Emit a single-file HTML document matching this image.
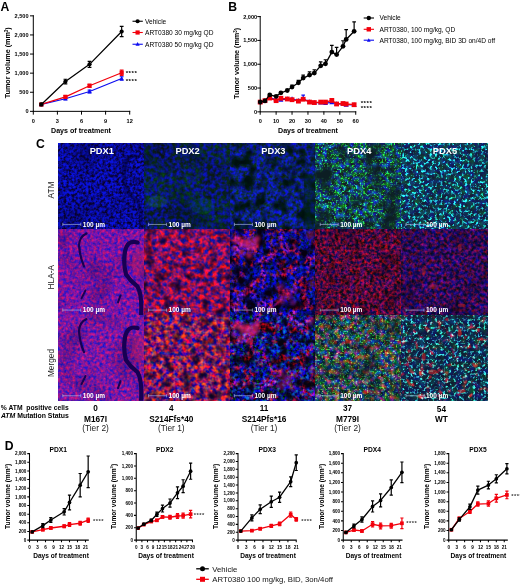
<!DOCTYPE html>
<html lang="en"><head><meta charset="utf-8"><title>Figure</title>
<style>html,body{margin:0;padding:0;background:#fff}body{width:520px;height:585px;overflow:hidden}svg{display:block}text{font-family:'Liberation Sans', Arial, Helvetica, sans-serif}</style>
</head><body>
<svg width="520" height="585" viewBox="0 0 520 585" font-family='"Liberation Sans", Arial, Helvetica, sans-serif'>
<rect width="520" height="585" fill="#fff"/>
<defs>
<filter id="ob" x="-20%" y="-20%" width="140%" height="140%"><feGaussianBlur stdDeviation="0.7"/></filter><filter id="ob2" x="-20%" y="-20%" width="140%" height="140%"><feGaussianBlur stdDeviation="1.5"/></filter>
<filter id="m00" x="0" y="0" width="1" height="1" color-interpolation-filters="sRGB"><feTurbulence type="fractalNoise" baseFrequency="0.36" numOctaves="2" seed="3"/><feColorMatrix values="0 0 0 0 0.03 0 0 0.2 0 -0.04 0 0 2.6 0 -0.7 0 0 0 0 1"/><feGaussianBlur stdDeviation="0.45" result="a"/><feTurbulence type="fractalNoise" baseFrequency="0.03" numOctaves="2" seed="11"/><feColorMatrix values="0.8 0 0 0 0.56 0.8 0 0 0 0.56 0.8 0 0 0 0.56 0 0 0 0 1" result="k"/><feComposite in="a" in2="k" operator="arithmetic" k1="1" k2="0" k3="0" k4="0"/><feColorMatrix values="1.084 0 0 0 0 0 0.734 0 0 0 0 0 0.697 0 0.176 0 0 0 0 1"/></filter>
<filter id="m01" x="0" y="0" width="1" height="1" color-interpolation-filters="sRGB"><feTurbulence type="fractalNoise" baseFrequency="0.26" numOctaves="2" seed="5"/><feColorMatrix values="0 0 0 0 0.03 0 0.5 -0.5 0 0.12 0 0 2.3 0 -0.75 0 0 0 0 1"/><feGaussianBlur stdDeviation="0.45" result="a"/><feTurbulence type="fractalNoise" baseFrequency="0.035" numOctaves="2" seed="12"/><feColorMatrix values="1.5 0 0 0 0.15 0 2.5 0 0 -0.55 1.5 0 0 0 0.15 0 0 0 0 1" result="k"/><feComposite in="a" in2="k" operator="arithmetic" k1="1" k2="0" k3="0" k4="0"/><feColorMatrix values="1.096 0 0 0 0 0 0.491 0 0 0.071 0 0 0.658 0 0.086 0 0 0 0 1"/></filter>
<filter id="m02" x="0" y="0" width="1" height="1" color-interpolation-filters="sRGB"><feTurbulence type="fractalNoise" baseFrequency="0.28" numOctaves="2" seed="7"/><feColorMatrix values="0 0 0 0 0.03 0 0.8 -0.4 0 0.1 0 0 2.2 0 -0.55 0 0 0 0 1"/><feGaussianBlur stdDeviation="0.45" result="a"/><feTurbulence type="fractalNoise" baseFrequency="0.09" numOctaves="2" seed="13"/><feColorMatrix values="3.5 0 0 0 -1 2 0 0 0 -0.2 3.5 0 0 0 -1 0 0 0 0 1" result="k"/><feComposite in="a" in2="k" operator="arithmetic" k1="1" k2="0" k3="0" k4="0"/><feColorMatrix values="1.555 0 0 0 0 0 0.288 0 0 0.047 0 0 0.822 0 0.059 0 0 0 0 1"/></filter>
<filter id="m03" x="0" y="0" width="1" height="1" color-interpolation-filters="sRGB"><feTurbulence type="fractalNoise" baseFrequency="0.55" numOctaves="2" seed="9"/><feColorMatrix values="0 0.9 0 0 -0.49 0 4.5 0 0 -2.43 0 0.6 0 0 -0.32 0 0 0 0 1"/><feGaussianBlur stdDeviation="0.4" result="a"/><feTurbulence type="fractalNoise" baseFrequency="0.22" numOctaves="2" seed="29"/><feColorMatrix values="0 0 0 0 0.06 0 1 0 0 -0.35 0 0 2.4 0 -0.9 0 0 0 0 1"/><feComposite in2="a" operator="arithmetic" k1="0" k2="1" k3="1" k4="0" result="a"/><feTurbulence type="fractalNoise" baseFrequency="0.06" numOctaves="2" seed="14"/><feColorMatrix values="3 0 0 0 -0.7 3 0 0 0 -0.7 3 0 0 0 -0.7 0 0 0 0 1" result="k"/><feComposite in="a" in2="k" operator="arithmetic" k1="1" k2="0" k3="0" k4="0"/><feColorMatrix values="0.525 0 0 0 0.047 0 0.833 0 0 0.118 0 0 0.719 0 0.137 0 0 0 0 1"/></filter>
<filter id="m04" x="0" y="0" width="1" height="1" color-interpolation-filters="sRGB"><feTurbulence type="fractalNoise" baseFrequency="0.37" numOctaves="2" seed="11"/><feColorMatrix values="0 0.8 0 0 -0.42 0 4 0 0 -2.08 0 3.8 0 0 -1.98 0 0 0 0 1"/><feGaussianBlur stdDeviation="0.5" result="a"/><feTurbulence type="fractalNoise" baseFrequency="0.2" numOctaves="2" seed="31"/><feColorMatrix values="0 0 0 0 0.05 0 0.5 0 0 -0.17 0 0 0.8 0 -0.28 0 0 0 0 1"/><feComposite in2="a" operator="arithmetic" k1="0" k2="1" k3="1" k4="0" result="a"/><feTurbulence type="fractalNoise" baseFrequency="0.04" numOctaves="2" seed="15"/><feColorMatrix values="1 0 0 0 0.46 1 0 0 0 0.46 1 0 0 0 0.46 0 0 0 0 1" result="k"/><feComposite in="a" in2="k" operator="arithmetic" k1="1" k2="0" k3="0" k4="0"/><feColorMatrix values="0.542 0 0 0 0.047 0 0.998 0 0 0.11 0 0 0.89 0 0.216 0 0 0 0 1"/></filter>
<filter id="m10" x="0" y="0" width="1" height="1" color-interpolation-filters="sRGB"><feTurbulence type="fractalNoise" baseFrequency="0.33" numOctaves="2" seed="13"/><feColorMatrix values="1.45 0 0 0 -0.255 0 0 0 0 0.06 -0.7 0 0.4 0 0.81 0 0 0 0 1"/><feGaussianBlur stdDeviation="0.55" result="a"/><feTurbulence type="fractalNoise" baseFrequency="0.035" numOctaves="2" seed="16"/><feColorMatrix values="0.6 0 0 0 0.68 0.6 0 0 0 0.68 0.6 0 0 0 0.68 0 0 0 0 1" result="k"/><feComposite in="a" in2="k" operator="arithmetic" k1="1" k2="0" k3="0" k4="0"/><feColorMatrix values="0.877 0 0 0 0.059 0 1.335 0 0 0 0 0 0.794 0 0.118 0 0 0 0 1"/></filter>
<filter id="m11" x="0" y="0" width="1" height="1" color-interpolation-filters="sRGB"><feTurbulence type="fractalNoise" baseFrequency="0.23" numOctaves="2" seed="15"/><feColorMatrix values="2 0 0 0 -0.55 0 0 0 0 0.06 -1.5 0 1 0 0.67 0 0 0 0 1"/><feGaussianBlur stdDeviation="0.5" result="a"/><feTurbulence type="fractalNoise" baseFrequency="0.11" numOctaves="2" seed="17"/><feColorMatrix values="2.2 0 0 0 -0.24 2.2 0 0 0 -0.24 2.2 0 0 0 -0.24 0 0 0 0 1" result="k"/><feComposite in="a" in2="k" operator="arithmetic" k1="1" k2="0" k3="0" k4="0"/><feColorMatrix values="1.114 0 0 0 0.047 0 1.31 0 0 0 0 0 0.708 0 0.11 0 0 0 0 1"/></filter>
<filter id="m12" x="0" y="0" width="1" height="1" color-interpolation-filters="sRGB"><feTurbulence type="fractalNoise" baseFrequency="0.3" numOctaves="2" seed="17"/><feColorMatrix values="2.5 0 0 0 -0.85 0.3 0 0 0 -0.1 0 0 2.6 0 -0.72 0 0 0 0 1"/><feGaussianBlur stdDeviation="0.45" result="a"/><feTurbulence type="fractalNoise" baseFrequency="0.09" numOctaves="2" seed="13"/><feColorMatrix values="0 6 0 0 -2.7 3.5 0 0 0 -1 3.5 0 0 0 -1 0 0 0 0 1" result="k"/><feComposite in="a" in2="k" operator="arithmetic" k1="1" k2="0" k3="0" k4="0"/><feColorMatrix values="0.764 0 0 0 0.024 0 1.225 0 0 0 0 0 0.831 0 0.059 0 0 0 0 1"/></filter>
<filter id="m13" x="0" y="0" width="1" height="1" color-interpolation-filters="sRGB"><feTurbulence type="fractalNoise" baseFrequency="0.34" numOctaves="2" seed="19"/><feColorMatrix values="1.9 0 0 0 -0.62 0 0 0 0 0.03 0 0 0 0 0 0 0 0 0 1"/><feGaussianBlur stdDeviation="0.55" result="a"/><feTurbulence type="fractalNoise" baseFrequency="0.2" numOctaves="2" seed="33"/><feColorMatrix values="0 0 0 0 0 0 0 0 0 0 0 0 1.7 0 -0.49 0 0 0 0 1"/><feComposite in2="a" operator="arithmetic" k1="0" k2="1" k3="1" k4="0" result="a"/><feTurbulence type="fractalNoise" baseFrequency="0.05" numOctaves="2" seed="14"/><feColorMatrix values="1.2 0 0 0 0.34 1.2 0 0 0 0.34 1.2 0 0 0 0.34 0 0 0 0 1" result="k"/><feComposite in="a" in2="k" operator="arithmetic" k1="1" k2="0" k3="0" k4="0"/><feColorMatrix values="0.872 0 0 0 0.039 0 1.35 0 0 0 0 0 0.414 0 0.078 0 0 0 0 1"/></filter>
<filter id="m14" x="0" y="0" width="1" height="1" color-interpolation-filters="sRGB"><feTurbulence type="fractalNoise" baseFrequency="0.32" numOctaves="2" seed="21"/><feColorMatrix values="1.7 0 0 0 -0.63 0 0 0 0 0.03 0 0 0 0 0 0 0 0 0 1"/><feGaussianBlur stdDeviation="0.55" result="a"/><feTurbulence type="fractalNoise" baseFrequency="0.25" numOctaves="2" seed="35"/><feColorMatrix values="0 0 0 0 0 0 0 0 0 0 0 0 1.7 0 -0.43 0 0 0 0 1"/><feComposite in2="a" operator="arithmetic" k1="0" k2="1" k3="1" k4="0" result="a"/><feTurbulence type="fractalNoise" baseFrequency="0.04" numOctaves="2" seed="15"/><feColorMatrix values="1 0 0 0 0.46 1 0 0 0 0.46 1 0 0 0 0.46 0 0 0 0 1" result="k"/><feComposite in="a" in2="k" operator="arithmetic" k1="1" k2="0" k3="0" k4="0"/><feColorMatrix values="0.747 0 0 0 0.031 0 1.375 0 0 0 0 0 0.581 0 0.098 0 0 0 0 1"/></filter>
<filter id="m20" x="0" y="0" width="1" height="1" color-interpolation-filters="sRGB"><feTurbulence type="fractalNoise" baseFrequency="0.33" numOctaves="2" seed="13"/><feColorMatrix values="1.45 0 0 0 -0.255 0 0 0 0 0.07 -0.7 0 0.4 0 0.81 0 0 0 0 1"/><feGaussianBlur stdDeviation="0.55" result="a"/><feTurbulence type="fractalNoise" baseFrequency="0.035" numOctaves="2" seed="16"/><feColorMatrix values="0.6 0 0 0 0.68 0.6 0 0 0 0.68 0.6 0 0 0 0.68 0 0 0 0 1" result="k"/><feComposite in="a" in2="k" operator="arithmetic" k1="1" k2="0" k3="0" k4="0"/><feColorMatrix values="0.884 0 0 0 0.059 0 1.253 0 0 0 0 0 0.792 0 0.118 0 0 0 0 1"/></filter>
<filter id="m21" x="0" y="0" width="1" height="1" color-interpolation-filters="sRGB"><feTurbulence type="fractalNoise" baseFrequency="0.23" numOctaves="2" seed="15"/><feColorMatrix values="2 0 0 0 -0.55 0.5 1 0 0 -0.61 -1.5 0 1 0 0.67 0 0 0 0 1"/><feGaussianBlur stdDeviation="0.5" result="a"/><feTurbulence type="fractalNoise" baseFrequency="0.11" numOctaves="2" seed="17"/><feColorMatrix values="2.2 0 0 0 -0.24 2.2 0 0 0 -0.24 2.2 0 0 0 -0.24 0 0 0 0 1" result="k"/><feComposite in="a" in2="k" operator="arithmetic" k1="1" k2="0" k3="0" k4="0"/><feColorMatrix values="1.141 0 0 0 0.047 0 0.748 0 0 0.016 0 0 0.714 0 0.11 0 0 0 0 1"/></filter>
<filter id="m22" x="0" y="0" width="1" height="1" color-interpolation-filters="sRGB"><feTurbulence type="fractalNoise" baseFrequency="0.3" numOctaves="2" seed="17"/><feColorMatrix values="2.5 0 0 0 -0.85 0 1.6 0 0 -0.7 0 0 2.6 0 -0.72 0 0 0 0 1"/><feGaussianBlur stdDeviation="0.45" result="a"/><feTurbulence type="fractalNoise" baseFrequency="0.09" numOctaves="2" seed="13"/><feColorMatrix values="0 6 0 0 -2.7 3.5 0 0 0 -1 3.5 0 0 0 -1 0 0 0 0 1" result="k"/><feComposite in="a" in2="k" operator="arithmetic" k1="1" k2="0" k3="0" k4="0"/><feColorMatrix values="0.769 0 0 0 0.024 0 0.786 0 0 0.012 0 0 0.831 0 0.059 0 0 0 0 1"/></filter>
<filter id="m23" x="0" y="0" width="1" height="1" color-interpolation-filters="sRGB"><feTurbulence type="fractalNoise" baseFrequency="0.55" numOctaves="2" seed="9"/><feColorMatrix values="0 1 0 0 -0.54 0 3.6 0 0 -1.94 0 0.8 0 0 -0.43 0 0 0 0 1"/><feGaussianBlur stdDeviation="0.4" result="a"/><feTurbulence type="fractalNoise" baseFrequency="0.2" numOctaves="2" seed="29"/><feColorMatrix values="2.6 0 0 0 -1.12 0 1 0 0 -0.28 0 0 1.8 0 -0.64 0 0 0 0 1"/><feComposite in2="a" operator="arithmetic" k1="0" k2="1" k3="1" k4="0" result="a"/><feTurbulence type="fractalNoise" baseFrequency="0.05" numOctaves="2" seed="14"/><feColorMatrix values="1.6 0 0 0 0.1 1.6 0 0 0 0.1 1.6 0 0 0 0.1 0 0 0 0 1" result="k"/><feComposite in="a" in2="k" operator="arithmetic" k1="1" k2="0" k3="0" k4="0"/><feColorMatrix values="0.829 0 0 0 0.031 0 0.719 0 0 0.086 0 0 0.794 0 0.11 0 0 0 0 1"/></filter>
<filter id="m24" x="0" y="0" width="1" height="1" color-interpolation-filters="sRGB"><feTurbulence type="fractalNoise" baseFrequency="0.37" numOctaves="2" seed="11"/><feColorMatrix values="0 0.8 0 0 -0.42 0 4 0 0 -2.08 0 3.8 0 0 -1.98 0 0 0 0 1"/><feGaussianBlur stdDeviation="0.5" result="a"/><feTurbulence type="fractalNoise" baseFrequency="0.16" numOctaves="2" seed="31"/><feColorMatrix values="3.2 0 0 0 -1.8 0 0.5 0 0 -0.19 0 0 0.8 0 -0.28 0 0 0 0 1"/><feComposite in2="a" operator="arithmetic" k1="0" k2="1" k3="1" k4="0" result="a"/><feTurbulence type="fractalNoise" baseFrequency="0.04" numOctaves="2" seed="15"/><feColorMatrix values="1 0 0 0 0.46 1 0 0 0 0.46 1 0 0 0 0.46 0 0 0 0 1" result="k"/><feComposite in="a" in2="k" operator="arithmetic" k1="1" k2="0" k3="0" k4="0"/><feColorMatrix values="1.009 0 0 0 0.055 0 0.868 0 0 0.098 0 0 0.725 0 0.196 0 0 0 0 1"/></filter>
</defs>
<text x="0.5" y="10.6" font-size="12.2" font-weight="bold" text-anchor="start" fill="#000">A</text>
<text x="228.2" y="10.6" font-size="12.2" font-weight="bold" text-anchor="start" fill="#000">B</text>
<text x="36.1" y="148.4" font-size="12.2" font-weight="bold" text-anchor="start" fill="#000">C</text>
<text x="4.8" y="450" font-size="12.2" font-weight="bold" text-anchor="start" fill="#000">D</text>
<path d="M41.33 104.47L65.43 98.74L89.53 91.49L121.67 78.5" fill="none" stroke="#0c0cf0" stroke-width="1.25" stroke-linejoin="round"/>
<path d="M65.43 97.79V99.7M63.53 97.79H67.33M63.53 99.7H67.33M89.53 90.15V92.82M87.63 90.15H91.43M87.63 92.82H91.43M121.67 76.78V80.22M119.77 76.78H123.57M119.77 80.22H123.57" fill="none" stroke="#0c0cf0" stroke-width="1.15"/>
<path d="M41.33 102.18L43.53 106.17H39.14Z" fill="#0c0cf0"/>
<path d="M65.43 96.45L67.63 100.44H63.24Z" fill="#0c0cf0"/>
<path d="M89.53 89.19L91.73 93.18H87.34Z" fill="#0c0cf0"/>
<path d="M121.67 76.2L123.86 80.19H119.47Z" fill="#0c0cf0"/>
<path d="M41.33 104.47L65.43 96.83L89.53 85.76L121.67 72.77" fill="none" stroke="#f2000c" stroke-width="1.25" stroke-linejoin="round"/>
<path d="M65.43 95.69V97.98M63.53 95.69H67.33M63.53 97.98H67.33M89.53 84.23V87.28M87.63 84.23H91.43M87.63 87.28H91.43M121.67 70.09V75.44M119.77 70.09H123.57M119.77 75.44H123.57" fill="none" stroke="#f2000c" stroke-width="1.15"/>
<rect x="39.23" y="102.37" width="4.2" height="4.2" fill="#f2000c"/>
<rect x="63.33" y="94.73" width="4.2" height="4.2" fill="#f2000c"/>
<rect x="87.43" y="83.66" width="4.2" height="4.2" fill="#f2000c"/>
<rect x="119.57" y="70.67" width="4.2" height="4.2" fill="#f2000c"/>
<path d="M41.33 104.47L65.43 81.55L89.53 64.36L121.67 31.51" fill="none" stroke="#000" stroke-width="1.25" stroke-linejoin="round"/>
<path d="M41.33 103.33V105.62M39.43 103.33H43.23M39.43 105.62H43.23M65.43 79.26V83.85M63.53 79.26H67.33M63.53 83.85H67.33M89.53 61.31V67.42M87.63 61.31H91.43M87.63 67.42H91.43M121.67 26.36V36.67M119.77 26.36H123.57M119.77 36.67H123.57" fill="none" stroke="#000" stroke-width="1.15"/>
<circle cx="41.33" cy="104.47" r="2.1" fill="#000"/>
<circle cx="65.43" cy="81.55" r="2.1" fill="#000"/>
<circle cx="89.53" cy="64.36" r="2.1" fill="#000"/>
<circle cx="121.67" cy="31.51" r="2.1" fill="#000"/>
<path d="M33.3 15.85V111.35H129.7M30.5 111.35H33.3M30.5 92.25H33.3M30.5 73.15H33.3M30.5 54.05H33.3M30.5 34.95H33.3M30.5 15.85H33.3M33.3 111.35V114.15M57.4 111.35V114.15M81.5 111.35V114.15M105.6 111.35V114.15M129.7 111.35V114.15" fill="none" stroke="#000" stroke-width="1" stroke-linecap="square"/>
<g font-size="5.6" font-weight="bold">
<text x="28.6" y="113.37" text-anchor="end">0</text>
<text x="28.6" y="94.27" text-anchor="end">500</text>
<text x="28.6" y="75.17" text-anchor="end">1,000</text>
<text x="28.6" y="56.07" text-anchor="end">1,500</text>
<text x="28.6" y="36.97" text-anchor="end">2,000</text>
<text x="28.6" y="17.87" text-anchor="end">2,500</text>
<text x="33.3" y="123.2" text-anchor="middle">0</text>
<text x="57.4" y="123.2" text-anchor="middle">3</text>
<text x="81.5" y="123.2" text-anchor="middle">6</text>
<text x="105.6" y="123.2" text-anchor="middle">9</text>
<text x="129.7" y="123.2" text-anchor="middle">12</text>
</g>
<text transform="translate(10.3 62.8) rotate(-90)" font-size="7.2" font-weight="bold" text-anchor="middle">Tumor volume (mm<tspan font-size="4.46" dy="-2.74">3</tspan><tspan dy="2.74">)</tspan></text>
<text x="81" y="132.6" font-size="7.1" font-weight="bold" text-anchor="middle" fill="#000">Days of treatment</text>
<text x="125.7" y="75.2" font-size="6.2" font-weight="bold" text-anchor="start" fill="#000" letter-spacing="0.5">****</text>
<text x="125.7" y="82.7" font-size="6.2" font-weight="bold" text-anchor="start" fill="#000" letter-spacing="0.5">****</text>
<path d="M132.5 21.25H142.8" stroke="#000" stroke-width="1.1"/>
<circle cx="137.6" cy="21.25" r="2.1" fill="#000"/>
<text x="145" y="23.55" font-size="6.6" font-weight="normal" text-anchor="start" fill="#000">Vehicle</text>
<path d="M132.5 32.5H142.8" stroke="#f2000c" stroke-width="1.1"/>
<rect x="135.5" y="30.4" width="4.2" height="4.2" fill="#f2000c"/>
<text x="145" y="34.8" font-size="6.6" font-weight="normal" text-anchor="start" fill="#000">ART0380 30 mg/kg QD</text>
<path d="M132.5 44.25H142.8" stroke="#0c0cf0" stroke-width="1.1"/>
<path d="M137.6 42.06L139.69 45.87H135.51Z" fill="#0c0cf0"/>
<text x="145" y="46.55" font-size="6.6" font-weight="normal" text-anchor="start" fill="#000">ART0380 50 mg/kg QD</text>
<path d="M260.2 102.09L264.98 100.66L269.75 97.8L276.12 99.71L280.9 99.71L287.26 98.99L292.04 98.99L298.41 100.66L303.18 98.75L309.55 101.85L314.33 102.56L320.7 102.56L325.47 103.04L331.84 102.32L336.62 103.75L342.98 103.75L346.17 104.71L354.13 104.94" fill="none" stroke="#0c0cf0" stroke-width="1.3" stroke-linejoin="round"/>
<path d="M303.18 95.18V98.75M301.38 95.18H304.98M301.38 98.75H304.98" fill="none" stroke="#0c0cf0" stroke-width="1.2"/>
<path d="M260.2 99.46L262.71 104.02H257.69Z" fill="#0c0cf0"/>
<path d="M264.98 98.04L267.48 102.6H262.47Z" fill="#0c0cf0"/>
<path d="M269.75 95.18L272.26 99.74H267.24Z" fill="#0c0cf0"/>
<path d="M276.12 97.08L278.63 101.64H273.61Z" fill="#0c0cf0"/>
<path d="M280.9 97.08L283.4 101.64H278.39Z" fill="#0c0cf0"/>
<path d="M287.26 96.37L289.77 100.93H284.76Z" fill="#0c0cf0"/>
<path d="M292.04 96.37L294.55 100.93H289.53Z" fill="#0c0cf0"/>
<path d="M298.41 98.04L300.92 102.6H295.9Z" fill="#0c0cf0"/>
<path d="M303.18 96.13L305.69 100.69H300.68Z" fill="#0c0cf0"/>
<path d="M309.55 99.23L312.06 103.79H307.04Z" fill="#0c0cf0"/>
<path d="M314.33 99.94L316.84 104.5H311.82Z" fill="#0c0cf0"/>
<path d="M320.7 99.94L323.2 104.5H318.19Z" fill="#0c0cf0"/>
<path d="M325.47 100.42L327.98 104.98H322.96Z" fill="#0c0cf0"/>
<path d="M331.84 99.7L334.35 104.26H329.33Z" fill="#0c0cf0"/>
<path d="M336.62 101.13L339.12 105.69H334.11Z" fill="#0c0cf0"/>
<path d="M342.98 101.13L345.49 105.69H340.48Z" fill="#0c0cf0"/>
<path d="M346.17 102.08L348.68 106.64H343.66Z" fill="#0c0cf0"/>
<path d="M354.13 102.32L356.64 106.88H351.62Z" fill="#0c0cf0"/>
<path d="M260.2 102.09L264.98 100.66L269.75 98.04L276.12 100.66L280.9 98.28L287.26 98.99L292.04 99.71L298.41 101.13L303.18 99.23L309.55 102.09L314.33 102.56L320.7 102.09L325.47 102.09L331.84 100.42L336.62 103.99L342.98 103.52L346.17 103.99L354.13 104.71" fill="none" stroke="#f2000c" stroke-width="1.3" stroke-linejoin="round"/>
<rect x="257.8" y="99.69" width="4.8" height="4.8" fill="#f2000c"/>
<rect x="262.58" y="98.26" width="4.8" height="4.8" fill="#f2000c"/>
<rect x="267.35" y="95.64" width="4.8" height="4.8" fill="#f2000c"/>
<rect x="273.72" y="98.26" width="4.8" height="4.8" fill="#f2000c"/>
<rect x="278.5" y="95.88" width="4.8" height="4.8" fill="#f2000c"/>
<rect x="284.86" y="96.59" width="4.8" height="4.8" fill="#f2000c"/>
<rect x="289.64" y="97.31" width="4.8" height="4.8" fill="#f2000c"/>
<rect x="296.01" y="98.73" width="4.8" height="4.8" fill="#f2000c"/>
<rect x="300.78" y="96.83" width="4.8" height="4.8" fill="#f2000c"/>
<rect x="307.15" y="99.69" width="4.8" height="4.8" fill="#f2000c"/>
<rect x="311.93" y="100.16" width="4.8" height="4.8" fill="#f2000c"/>
<rect x="318.3" y="99.69" width="4.8" height="4.8" fill="#f2000c"/>
<rect x="323.07" y="99.69" width="4.8" height="4.8" fill="#f2000c"/>
<rect x="329.44" y="98.02" width="4.8" height="4.8" fill="#f2000c"/>
<rect x="334.22" y="101.59" width="4.8" height="4.8" fill="#f2000c"/>
<rect x="340.58" y="101.12" width="4.8" height="4.8" fill="#f2000c"/>
<rect x="343.77" y="101.59" width="4.8" height="4.8" fill="#f2000c"/>
<rect x="351.73" y="102.31" width="4.8" height="4.8" fill="#f2000c"/>
<path d="M260.2 102.09L264.98 100.9L269.75 94.94L276.12 96.37L280.9 92.8L287.26 90.51L292.04 87.08L298.41 82.8L303.18 78.04L309.55 75.08L314.33 73.04L320.7 65.84L325.47 63.84L331.84 52.08L336.62 54.6L342.98 46.32L346.17 39.46L354.13 31.32" fill="none" stroke="#000" stroke-width="1.3" stroke-linejoin="round"/>
<path d="M292.04 84.98V87.08M290.24 84.98H293.84M290.24 87.08H293.84M298.41 80.33V82.8M296.61 80.33H300.21M296.61 82.8H300.21M303.18 75.16V78.04M301.38 75.16H304.98M301.38 78.04H304.98M309.55 71.96V75.08M307.75 71.96H311.35M307.75 75.08H311.35M314.33 69.74V73.04M312.53 69.74H316.13M312.53 73.04H316.13M320.7 61.93V65.84M318.9 61.93H322.5M318.9 65.84H322.5M325.47 59.76V63.84M323.67 59.76H327.27M323.67 63.84H327.27M331.84 45.41V52.08M330.04 45.41H333.64M330.04 52.08H333.64M336.62 47.46V54.6M334.82 47.46H338.42M334.82 54.6H338.42M342.98 40.75V46.32M341.18 40.75H344.78M341.18 46.32H344.78M346.17 29.7V39.46M344.37 29.7H347.97M344.37 39.46H347.97M354.13 21.79V31.32M352.33 21.79H355.93M352.33 31.32H355.93" fill="none" stroke="#000" stroke-width="1.2"/>
<circle cx="260.2" cy="102.09" r="2.4" fill="#000"/>
<circle cx="264.98" cy="100.9" r="2.4" fill="#000"/>
<circle cx="269.75" cy="94.94" r="2.4" fill="#000"/>
<circle cx="276.12" cy="96.37" r="2.4" fill="#000"/>
<circle cx="280.9" cy="92.8" r="2.4" fill="#000"/>
<circle cx="287.26" cy="90.51" r="2.4" fill="#000"/>
<circle cx="292.04" cy="87.08" r="2.4" fill="#000"/>
<circle cx="298.41" cy="82.8" r="2.4" fill="#000"/>
<circle cx="303.18" cy="78.04" r="2.4" fill="#000"/>
<circle cx="309.55" cy="75.08" r="2.4" fill="#000"/>
<circle cx="314.33" cy="73.04" r="2.4" fill="#000"/>
<circle cx="320.7" cy="65.84" r="2.4" fill="#000"/>
<circle cx="325.47" cy="63.84" r="2.4" fill="#000"/>
<circle cx="331.84" cy="52.08" r="2.4" fill="#000"/>
<circle cx="336.62" cy="54.6" r="2.4" fill="#000"/>
<circle cx="342.98" cy="46.32" r="2.4" fill="#000"/>
<circle cx="346.17" cy="39.46" r="2.4" fill="#000"/>
<circle cx="354.13" cy="31.32" r="2.4" fill="#000"/>
<path d="M260.2 16.6V111.85H355.72M257.8 111.85H260.2M257.8 88.04H260.2M257.8 64.22H260.2M257.8 40.41H260.2M257.8 16.6H260.2M260.2 111.85V114.25M276.12 111.85V114.25M292.04 111.85V114.25M307.96 111.85V114.25M323.88 111.85V114.25M339.8 111.85V114.25M355.72 111.85V114.25" fill="none" stroke="#000" stroke-width="1" stroke-linecap="square"/>
<g font-size="5.6" font-weight="bold">
<text x="257.2" y="113.87" text-anchor="end">0</text>
<text x="257.2" y="90.05" text-anchor="end">500</text>
<text x="257.2" y="66.24" text-anchor="end">1,000</text>
<text x="257.2" y="42.43" text-anchor="end">1,500</text>
<text x="257.2" y="18.62" text-anchor="end">2,000</text>
<text x="260.2" y="122.8" text-anchor="middle">0</text>
<text x="276.12" y="122.8" text-anchor="middle">10</text>
<text x="292.04" y="122.8" text-anchor="middle">20</text>
<text x="307.96" y="122.8" text-anchor="middle">30</text>
<text x="323.88" y="122.8" text-anchor="middle">40</text>
<text x="339.8" y="122.8" text-anchor="middle">50</text>
<text x="355.72" y="122.8" text-anchor="middle">60</text>
</g>
<text transform="translate(239.4 63.4) rotate(-90)" font-size="7.2" font-weight="bold" text-anchor="middle">Tumor volume (mm<tspan font-size="4.46" dy="-2.74">3</tspan><tspan dy="2.74">)</tspan></text>
<text x="308" y="132.6" font-size="7.1" font-weight="bold" text-anchor="middle" fill="#000">Days of treatment</text>
<text x="360.7" y="104.6" font-size="6.2" font-weight="bold" text-anchor="start" fill="#000" letter-spacing="0.5">****</text>
<text x="360.7" y="110.1" font-size="6.2" font-weight="bold" text-anchor="start" fill="#000" letter-spacing="0.5">****</text>
<path d="M363.7 18H374" stroke="#000" stroke-width="1.1"/>
<circle cx="368.8" cy="18" r="2.2" fill="#000"/>
<text x="379.5" y="20.3" font-size="6.6" font-weight="normal" text-anchor="start" fill="#000">Vehicle</text>
<path d="M363.7 29.3H374" stroke="#f2000c" stroke-width="1.1"/>
<rect x="366.6" y="27.1" width="4.4" height="4.4" fill="#f2000c"/>
<text x="379.5" y="31.6" font-size="6.6" font-weight="normal" text-anchor="start" fill="#000">ART0380, 100 mg/kg, QD</text>
<path d="M363.7 40.2H374" stroke="#0c0cf0" stroke-width="1.1"/>
<path d="M368.8 38.25L370.67 41.65H366.93Z" fill="#0c0cf0"/>
<text x="379.5" y="42.5" font-size="6.6" font-weight="normal" text-anchor="start" fill="#000">ART0380, 100 mg/kg, BID 3D on/4D off</text>
<rect x="58.5" y="143.75" width="86.1" height="85.97" fill="rgb(8,10,138)" filter="url(#m00)"/>
<svg x="58.5" y="143.75" width="86.1" height="85.97" overflow="hidden"><g filter="url(#ob)"><g fill="none" stroke="rgb(0,0,55)" stroke-opacity="0.45" stroke-linecap="round" stroke-linejoin="round"><path d="M79 13Q69 10 66.5 22Q64.5 34 67.5 45Q72 52 79 57Q84 66 82.5 87" stroke-width="4.2"/></g></g></svg>
<rect x="144.3" y="143.75" width="86.1" height="85.97" fill="rgb(8,30,84)" filter="url(#m01)"/>
<svg x="144.3" y="143.75" width="86.1" height="85.97" overflow="hidden"><g filter="url(#ob)"><ellipse cx="13" cy="58" rx="10" ry="6" fill="rgb(40,170,90)" fill-opacity="0.16"/><ellipse cx="58" cy="62" rx="12" ry="8" fill="rgb(30,150,90)" fill-opacity="0.14"/></g></svg>
<rect x="230.1" y="143.75" width="86.1" height="85.97" fill="rgb(8,29,90)" filter="url(#m02)"/>
<svg x="230.1" y="143.75" width="86.1" height="85.97" overflow="hidden"><g filter="url(#ob)"><rect x="74" y="30" width="12" height="56" fill="rgb(0,30,20)" fill-opacity="0.5"/></g></svg>
<rect x="315.9" y="143.75" width="86.1" height="85.97" fill="rgb(20,73,80)" filter="url(#m03)"/>
<rect x="401.7" y="143.75" width="85.8" height="85.97" fill="rgb(22,82,110)" filter="url(#m04)"/>
<rect x="58.5" y="229.42" width="86.1" height="85.97" fill="rgb(110,18,152)" filter="url(#m10)"/>
<svg x="58.5" y="229.42" width="86.1" height="85.97" overflow="hidden"><g filter="url(#ob)"><g fill="none" stroke="rgb(20,6,82)" stroke-opacity="1" stroke-linecap="round" stroke-linejoin="round"><path d="M79 13Q69 10 66.5 22Q64.5 34 67.5 45Q72 52 79 57Q84 66 82.5 87" stroke-width="4.2"/><path d="M28 4Q21 7 20.5 16Q21.5 28 25.5 37" stroke-width="2.2"/><path d="M27 61Q25 65 23 69M62 66L59.5 73" stroke-width="2"/></g><ellipse cx="80" cy="33" rx="7" ry="14" fill="rgb(200,20,80)" fill-opacity="0.35"/></g></svg>
<rect x="144.3" y="229.42" width="86.1" height="85.97" fill="rgb(116,16,90)" filter="url(#m11)"/>
<rect x="230.1" y="229.42" width="86.1" height="85.97" fill="rgb(48,12,100)" filter="url(#m12)"/>
<svg x="230.1" y="229.42" width="86.1" height="85.97" overflow="hidden"><g filter="url(#ob)"><g filter="url(#ob2)"><g fill="rgb(240,35,115)" fill-opacity="0.6"><circle cx="7" cy="10" r="4"/><circle cx="14" cy="14" r="5"/><circle cx="22" cy="15" r="6.5"/><circle cx="27" cy="9" r="3"/><circle cx="11" cy="23" r="3"/><circle cx="19" cy="26" r="3"/><circle cx="4" cy="19" r="2.5"/></g><g fill="rgb(225,30,110)" fill-opacity="0.36"><circle cx="50" cy="58" r="4"/><circle cx="57" cy="65" r="5.5"/><circle cx="65" cy="60" r="3"/><circle cx="51" cy="71" r="4"/><circle cx="63" cy="73" r="3"/><circle cx="80" cy="6" r="4"/><circle cx="82" cy="55" r="3"/></g></g></g></svg>
<rect x="315.9" y="229.42" width="86.1" height="85.97" fill="rgb(78,10,55)" filter="url(#m13)"/>
<rect x="401.7" y="229.42" width="85.8" height="85.97" fill="rgb(50,10,82)" filter="url(#m14)"/>
<svg x="401.7" y="229.42" width="85.8" height="85.97" overflow="hidden"><g filter="url(#ob)"><g fill="rgb(205,30,30)" fill-opacity="0.45"><ellipse cx="31" cy="57" rx="4.5" ry="2.5"/><ellipse cx="58" cy="18" rx="2" ry="3.5"/><ellipse cx="22" cy="42" rx="2" ry="4"/><ellipse cx="60" cy="76" rx="4" ry="1.8"/></g></g></svg>
<rect x="58.5" y="315.09" width="86.1" height="85.67" fill="rgb(110,20,150)" filter="url(#m20)"/>
<svg x="58.5" y="315.09" width="86.1" height="85.67" overflow="hidden"><g filter="url(#ob)"><g fill="none" stroke="rgb(20,6,82)" stroke-opacity="1" stroke-linecap="round" stroke-linejoin="round"><path d="M79 13Q69 10 66.5 22Q64.5 34 67.5 45Q72 52 79 57Q84 66 82.5 87" stroke-width="4.2"/><path d="M28 4Q21 7 20.5 16Q21.5 28 25.5 37" stroke-width="2.2"/><path d="M27 61Q25 65 23 69M62 66L59.5 73" stroke-width="2"/></g><ellipse cx="80" cy="33" rx="7" ry="14" fill="rgb(200,20,80)" fill-opacity="0.35"/></g></svg>
<rect x="144.3" y="315.09" width="86.1" height="85.67" fill="rgb(118,28,90)" filter="url(#m21)"/>
<rect x="230.1" y="315.09" width="86.1" height="85.67" fill="rgb(48,22,98)" filter="url(#m22)"/>
<svg x="230.1" y="315.09" width="86.1" height="85.67" overflow="hidden"><g filter="url(#ob)"><g filter="url(#ob2)"><g fill="rgb(240,35,115)" fill-opacity="0.6"><circle cx="7" cy="10" r="4"/><circle cx="14" cy="14" r="5"/><circle cx="22" cy="15" r="6.5"/><circle cx="27" cy="9" r="3"/><circle cx="11" cy="23" r="3"/><circle cx="19" cy="26" r="3"/><circle cx="4" cy="19" r="2.5"/></g><g fill="rgb(225,30,110)" fill-opacity="0.36"><circle cx="50" cy="58" r="4"/><circle cx="57" cy="65" r="5.5"/><circle cx="65" cy="60" r="3"/><circle cx="51" cy="71" r="4"/><circle cx="63" cy="73" r="3"/><circle cx="80" cy="6" r="4"/><circle cx="82" cy="55" r="3"/></g></g></g></svg>
<rect x="315.9" y="315.09" width="86.1" height="85.67" fill="rgb(55,74,80)" filter="url(#m23)"/>
<rect x="401.7" y="315.09" width="85.8" height="85.67" fill="rgb(38,70,96)" filter="url(#m24)"/>
<svg x="401.7" y="315.09" width="85.8" height="85.67" overflow="hidden"><g filter="url(#ob)"><g fill="rgb(205,30,30)" fill-opacity="0.6"><ellipse cx="31" cy="57" rx="4.5" ry="2.5"/><ellipse cx="58" cy="18" rx="2" ry="3.5"/><ellipse cx="22" cy="42" rx="2" ry="4"/><ellipse cx="60" cy="76" rx="4" ry="1.8"/></g></g></svg>
<!--OVERLAYS-->
<path d="M62.8 224.42H80.8M62.8 222.82v3.2M80.8 222.82v3.2" stroke="#b8c4ee" stroke-width="0.6" fill="none"/>
<text x="82.8" y="226.82" font-size="6.5" font-weight="bold" fill="#fff">100 µm</text>
<path d="M148.6 224.42H166.6M148.6 222.82v3.2M166.6 222.82v3.2" stroke="#b8c4ee" stroke-width="0.6" fill="none"/>
<text x="168.6" y="226.82" font-size="6.5" font-weight="bold" fill="#fff">100 µm</text>
<path d="M234.4 224.42H252.4M234.4 222.82v3.2M252.4 222.82v3.2" stroke="#b8c4ee" stroke-width="0.6" fill="none"/>
<text x="254.4" y="226.82" font-size="6.5" font-weight="bold" fill="#fff">100 µm</text>
<path d="M320.2 224.42H338.2M320.2 222.82v3.2M338.2 222.82v3.2" stroke="#b8c4ee" stroke-width="0.6" fill="none"/>
<text x="340.2" y="226.82" font-size="6.5" font-weight="bold" fill="#fff">100 µm</text>
<path d="M406 224.42H424M406 222.82v3.2M424 222.82v3.2" stroke="#b8c4ee" stroke-width="0.6" fill="none"/>
<text x="426" y="226.82" font-size="6.5" font-weight="bold" fill="#fff">100 µm</text>
<path d="M62.8 310.09H80.8M62.8 308.49v3.2M80.8 308.49v3.2" stroke="#b8c4ee" stroke-width="0.6" fill="none"/>
<text x="82.8" y="312.49" font-size="6.5" font-weight="bold" fill="#fff">100 µm</text>
<path d="M148.6 310.09H166.6M148.6 308.49v3.2M166.6 308.49v3.2" stroke="#b8c4ee" stroke-width="0.6" fill="none"/>
<text x="168.6" y="312.49" font-size="6.5" font-weight="bold" fill="#fff">100 µm</text>
<path d="M234.4 310.09H252.4M234.4 308.49v3.2M252.4 308.49v3.2" stroke="#b8c4ee" stroke-width="0.6" fill="none"/>
<text x="254.4" y="312.49" font-size="6.5" font-weight="bold" fill="#fff">100 µm</text>
<path d="M320.2 310.09H338.2M320.2 308.49v3.2M338.2 308.49v3.2" stroke="#b8c4ee" stroke-width="0.6" fill="none"/>
<text x="340.2" y="312.49" font-size="6.5" font-weight="bold" fill="#fff">100 µm</text>
<path d="M406 310.09H424M406 308.49v3.2M424 308.49v3.2" stroke="#b8c4ee" stroke-width="0.6" fill="none"/>
<text x="426" y="312.49" font-size="6.5" font-weight="bold" fill="#fff">100 µm</text>
<path d="M62.8 395.76H80.8M62.8 394.16v3.2M80.8 394.16v3.2" stroke="#b8c4ee" stroke-width="0.6" fill="none"/>
<text x="82.8" y="398.16" font-size="6.5" font-weight="bold" fill="#fff">100 µm</text>
<path d="M148.6 395.76H166.6M148.6 394.16v3.2M166.6 394.16v3.2" stroke="#b8c4ee" stroke-width="0.6" fill="none"/>
<text x="168.6" y="398.16" font-size="6.5" font-weight="bold" fill="#fff">100 µm</text>
<path d="M234.4 395.76H252.4M234.4 394.16v3.2M252.4 394.16v3.2" stroke="#b8c4ee" stroke-width="0.6" fill="none"/>
<text x="254.4" y="398.16" font-size="6.5" font-weight="bold" fill="#fff">100 µm</text>
<path d="M320.2 395.76H338.2M320.2 394.16v3.2M338.2 394.16v3.2" stroke="#b8c4ee" stroke-width="0.6" fill="none"/>
<text x="340.2" y="398.16" font-size="6.5" font-weight="bold" fill="#fff">100 µm</text>
<path d="M406 395.76H424M406 394.16v3.2M424 394.16v3.2" stroke="#b8c4ee" stroke-width="0.6" fill="none"/>
<text x="426" y="398.16" font-size="6.5" font-weight="bold" fill="#fff">100 µm</text>
<text x="101.8" y="153.8" font-size="9.3" font-weight="bold" fill="#fff" text-anchor="middle">PDX1</text>
<text x="187.6" y="153.8" font-size="9.3" font-weight="bold" fill="#fff" text-anchor="middle">PDX2</text>
<text x="273.4" y="153.8" font-size="9.3" font-weight="bold" fill="#fff" text-anchor="middle">PDX3</text>
<text x="359.2" y="153.8" font-size="9.3" font-weight="bold" fill="#fff" text-anchor="middle">PDX4</text>
<text x="445" y="153.8" font-size="9.3" font-weight="bold" fill="#fff" text-anchor="middle">PDX5</text>
<text transform="translate(53.6 190) rotate(-90)" font-size="8.3" text-anchor="middle" fill="#222">ATM</text>
<text transform="translate(53.6 277.2) rotate(-90)" font-size="8.3" text-anchor="middle" fill="#222">HLA-A</text>
<text transform="translate(53.6 363) rotate(-90)" font-size="8.3" text-anchor="middle" fill="#222">Merged</text>
<text x="0.8" y="409.7" font-size="6.75" font-weight="bold" text-anchor="start" fill="#000">% ATM&#160; positive cells</text>
<text x="68.9" y="417.5" font-size="6.9" font-weight="bold" text-anchor="end"><tspan font-style="italic">ATM</tspan> Mutation Status</text>
<text x="95.5" y="410.5" font-size="8.2" font-weight="bold" text-anchor="middle" fill="#000">0</text>
<text x="95.5" y="421.7" font-size="8.3" font-weight="bold" text-anchor="middle" fill="#000">M167I</text>
<text x="95.5" y="431.3" font-size="8.4" font-weight="normal" text-anchor="middle" fill="#222">(Tier 2)</text>
<text x="171.3" y="410.5" font-size="8.2" font-weight="bold" text-anchor="middle" fill="#000">4</text>
<text x="171.3" y="421.7" font-size="8.3" font-weight="bold" text-anchor="middle" fill="#000">S214Ffs*40</text>
<text x="171.3" y="431.3" font-size="8.4" font-weight="normal" text-anchor="middle" fill="#222">(Tier 1)</text>
<text x="264" y="410.5" font-size="8.2" font-weight="bold" text-anchor="middle" fill="#000">11</text>
<text x="264" y="421.7" font-size="8.3" font-weight="bold" text-anchor="middle" fill="#000">S214Pfs*16</text>
<text x="264" y="431.3" font-size="8.4" font-weight="normal" text-anchor="middle" fill="#222">(Tier 1)</text>
<text x="347.5" y="410.5" font-size="8.2" font-weight="bold" text-anchor="middle" fill="#000">37</text>
<text x="347.5" y="421.7" font-size="8.3" font-weight="bold" text-anchor="middle" fill="#000">M779I</text>
<text x="347.5" y="431.3" font-size="8.4" font-weight="normal" text-anchor="middle" fill="#222">(Tier 2)</text>
<text x="441.4" y="411.7" font-size="8.2" font-weight="bold" text-anchor="middle" fill="#000">54</text>
<text x="441.4" y="422.42" font-size="8.3" font-weight="bold" text-anchor="middle" fill="#000">WT</text>
<path d="M32.17 531.88L42.83 529.72L50.83 527.99L64.17 526.26L69.5 524.53L80.17 523.23L88.17 520.21" fill="none" stroke="#f2000c" stroke-width="1.3" stroke-linejoin="round"/>
<path d="M42.83 528.86V530.59M41.23 528.86H44.43M41.23 530.59H44.43M50.83 526.91V529.07M49.23 526.91H52.43M49.23 529.07H52.43M64.17 524.75V527.77M62.57 524.75H65.77M62.57 527.77H65.77M69.5 522.58V526.48M67.9 522.58H71.1M67.9 526.48H71.1M80.17 521.29V525.18M78.57 521.29H81.77M78.57 525.18H81.77M88.17 518.04V522.37M86.57 518.04H89.77M86.57 522.37H89.77" fill="none" stroke="#f2000c" stroke-width="1.2"/>
<rect x="30.32" y="530.03" width="3.7" height="3.7" fill="#f2000c"/>
<rect x="40.98" y="527.87" width="3.7" height="3.7" fill="#f2000c"/>
<rect x="48.98" y="526.14" width="3.7" height="3.7" fill="#f2000c"/>
<rect x="62.32" y="524.41" width="3.7" height="3.7" fill="#f2000c"/>
<rect x="67.65" y="522.68" width="3.7" height="3.7" fill="#f2000c"/>
<rect x="78.32" y="521.38" width="3.7" height="3.7" fill="#f2000c"/>
<rect x="86.32" y="518.36" width="3.7" height="3.7" fill="#f2000c"/>
<path d="M32.17 531.88L42.83 525.61L50.83 519.99L64.17 511.77L69.5 502.47L80.17 485.17L88.17 471.77" fill="none" stroke="#000" stroke-width="1.3" stroke-linejoin="round"/>
<path d="M42.83 523.67V527.56M41.23 523.67H44.43M41.23 527.56H44.43M50.83 517.61V522.37M49.23 517.61H52.43M49.23 522.37H52.43M64.17 508.53V515.01M62.57 508.53H65.77M62.57 515.01H65.77M69.5 495.12V509.83M67.9 495.12H71.1M67.9 509.83H71.1M80.17 473.5V496.85M78.57 473.5H81.77M78.57 496.85H81.77M88.17 455.98V487.55M86.57 455.98H89.77M86.57 487.55H89.77" fill="none" stroke="#000" stroke-width="1.2"/>
<circle cx="32.17" cy="531.88" r="1.85" fill="#000"/>
<circle cx="42.83" cy="525.61" r="1.85" fill="#000"/>
<circle cx="50.83" cy="519.99" r="1.85" fill="#000"/>
<circle cx="64.17" cy="511.77" r="1.85" fill="#000"/>
<circle cx="69.5" cy="502.47" r="1.85" fill="#000"/>
<circle cx="80.17" cy="485.17" r="1.85" fill="#000"/>
<circle cx="88.17" cy="471.77" r="1.85" fill="#000"/>
<path d="M29.5 453.6V540.1H88.3M27.8 540.1H29.5M27.8 531.45H29.5M27.8 522.8H29.5M27.8 514.15H29.5M27.8 505.5H29.5M27.8 496.85H29.5M27.8 488.2H29.5M27.8 479.55H29.5M27.8 470.9H29.5M27.8 462.25H29.5M27.8 453.6H29.5M29.5 540.1V541.8M37.5 540.1V541.8M45.5 540.1V541.8M53.5 540.1V541.8M61.5 540.1V541.8M69.5 540.1V541.8M77.5 540.1V541.8M85.5 540.1V541.8" fill="none" stroke="#000" stroke-width="1.05" stroke-linecap="square"/>
<g font-size="4.6" font-weight="bold">
<text x="26.4" y="541.76" text-anchor="end">0</text>
<text x="26.4" y="533.11" text-anchor="end">200</text>
<text x="26.4" y="524.46" text-anchor="end">400</text>
<text x="26.4" y="515.81" text-anchor="end">600</text>
<text x="26.4" y="507.16" text-anchor="end">800</text>
<text x="26.4" y="498.51" text-anchor="end">1,000</text>
<text x="26.4" y="489.86" text-anchor="end">1,200</text>
<text x="26.4" y="481.21" text-anchor="end">1,400</text>
<text x="26.4" y="472.56" text-anchor="end">1,600</text>
<text x="26.4" y="463.91" text-anchor="end">1,800</text>
<text x="26.4" y="455.26" text-anchor="end">2,000</text>
<text x="29.5" y="548.6" text-anchor="middle">0</text>
<text x="37.5" y="548.6" text-anchor="middle">3</text>
<text x="45.5" y="548.6" text-anchor="middle">6</text>
<text x="53.5" y="548.6" text-anchor="middle">9</text>
<text x="61.5" y="548.6" text-anchor="middle">12</text>
<text x="69.5" y="548.6" text-anchor="middle">15</text>
<text x="77.5" y="548.6" text-anchor="middle">18</text>
<text x="85.5" y="548.6" text-anchor="middle">21</text>
</g>
<text transform="translate(10.4 496.5) rotate(-90)" font-size="6.6" font-weight="bold" text-anchor="middle">Tumor volume (mm<tspan font-size="4.09" dy="-2.51">3</tspan><tspan dy="2.51">)</tspan></text>
<text x="61" y="557.6" font-size="6.6" font-weight="bold" text-anchor="middle" fill="#000">Days of treatment</text>
<text x="58.3" y="451.5" font-size="6.7" font-weight="bold" text-anchor="middle" fill="#000">PDX1</text>
<text x="93" y="522.9" font-size="5.8" font-weight="bold" text-anchor="start" fill="#3a3a3a" letter-spacing="0.5">****</text>
<path d="M138.12 528.05L143.75 524.65L151.25 521.56L156.88 520.33L162.5 516.93L170 517.24L177.5 516L183.12 515.69L190.62 514.15" fill="none" stroke="#f2000c" stroke-width="1.3" stroke-linejoin="round"/>
<path d="M143.75 524.04V525.27M142.15 524.04H145.35M142.15 525.27H145.35M151.25 520.64V522.49M149.65 520.64H152.85M149.65 522.49H152.85M156.88 519.4V521.26M155.28 519.4H158.47M155.28 521.26H158.47M162.5 515.69V518.17M160.9 515.69H164.1M160.9 518.17H164.1M170 515.39V519.09M168.4 515.39H171.6M168.4 519.09H171.6M177.5 513.53V518.48M175.9 513.53H179.1M175.9 518.48H179.1M183.12 513.22V518.17M181.53 513.22H184.72M181.53 518.17H184.72M190.62 510.44V517.86M189.03 510.44H192.22M189.03 517.86H192.22" fill="none" stroke="#f2000c" stroke-width="1.2"/>
<rect x="136.28" y="526.2" width="3.7" height="3.7" fill="#f2000c"/>
<rect x="141.9" y="522.8" width="3.7" height="3.7" fill="#f2000c"/>
<rect x="149.4" y="519.71" width="3.7" height="3.7" fill="#f2000c"/>
<rect x="155.03" y="518.48" width="3.7" height="3.7" fill="#f2000c"/>
<rect x="160.65" y="515.08" width="3.7" height="3.7" fill="#f2000c"/>
<rect x="168.15" y="515.39" width="3.7" height="3.7" fill="#f2000c"/>
<rect x="175.65" y="514.15" width="3.7" height="3.7" fill="#f2000c"/>
<rect x="181.28" y="513.84" width="3.7" height="3.7" fill="#f2000c"/>
<rect x="188.78" y="512.3" width="3.7" height="3.7" fill="#f2000c"/>
<path d="M138.12 528.05L143.75 524.16L151.25 520.45L156.88 514.27L162.5 508.59L170 503.03L177.5 492.83L183.12 486.22L190.62 471.21" fill="none" stroke="#000" stroke-width="1.3" stroke-linejoin="round"/>
<path d="M143.75 523.23V525.09M142.15 523.23H145.35M142.15 525.09H145.35M151.25 519.22V521.69M149.65 519.22H152.85M149.65 521.69H152.85M156.88 512.11V516.44M155.28 512.11H158.47M155.28 516.44H158.47M162.5 505.19V511.99M160.9 505.19H164.1M160.9 511.99H164.1M170 499.01V507.04M168.4 499.01H171.6M168.4 507.04H171.6M177.5 486.96V498.7M175.9 486.96H179.1M175.9 498.7H179.1M183.12 479.74V492.71M181.53 479.74H184.72M181.53 492.71H184.72M190.62 463.18V479.24M189.03 463.18H192.22M189.03 479.24H192.22" fill="none" stroke="#000" stroke-width="1.2"/>
<circle cx="138.12" cy="528.05" r="1.85" fill="#000"/>
<circle cx="143.75" cy="524.16" r="1.85" fill="#000"/>
<circle cx="151.25" cy="520.45" r="1.85" fill="#000"/>
<circle cx="156.88" cy="514.27" r="1.85" fill="#000"/>
<circle cx="162.5" cy="508.59" r="1.85" fill="#000"/>
<circle cx="170" cy="503.03" r="1.85" fill="#000"/>
<circle cx="177.5" cy="492.83" r="1.85" fill="#000"/>
<circle cx="183.12" cy="486.22" r="1.85" fill="#000"/>
<circle cx="190.62" cy="471.21" r="1.85" fill="#000"/>
<path d="M136.25 453.6V540.1H192.5M134.55 540.1H136.25M134.55 527.74H136.25M134.55 515.39H136.25M134.55 503.03H136.25M134.55 490.67H136.25M134.55 478.31H136.25M134.55 465.96H136.25M134.55 453.6H136.25M136.25 540.1V541.8M141.88 540.1V541.8M147.5 540.1V541.8M153.12 540.1V541.8M158.75 540.1V541.8M164.38 540.1V541.8M170 540.1V541.8M175.62 540.1V541.8M181.25 540.1V541.8M186.88 540.1V541.8M192.5 540.1V541.8" fill="none" stroke="#000" stroke-width="1.05" stroke-linecap="square"/>
<g font-size="4.6" font-weight="bold">
<text x="133.15" y="541.76" text-anchor="end">0</text>
<text x="133.15" y="529.4" text-anchor="end">200</text>
<text x="133.15" y="517.04" text-anchor="end">400</text>
<text x="133.15" y="504.68" text-anchor="end">600</text>
<text x="133.15" y="492.33" text-anchor="end">800</text>
<text x="133.15" y="479.97" text-anchor="end">1,000</text>
<text x="133.15" y="467.61" text-anchor="end">1,200</text>
<text x="133.15" y="455.26" text-anchor="end">1,400</text>
<text x="136.25" y="548.6" text-anchor="middle">0</text>
<text x="141.88" y="548.6" text-anchor="middle">3</text>
<text x="147.5" y="548.6" text-anchor="middle">6</text>
<text x="153.12" y="548.6" text-anchor="middle">9</text>
<text x="158.75" y="548.6" text-anchor="middle">12</text>
<text x="164.38" y="548.6" text-anchor="middle">15</text>
<text x="170" y="548.6" text-anchor="middle">18</text>
<text x="175.62" y="548.6" text-anchor="middle">21</text>
<text x="181.25" y="548.6" text-anchor="middle">24</text>
<text x="186.88" y="548.6" text-anchor="middle">27</text>
<text x="192.5" y="548.6" text-anchor="middle">30</text>
</g>
<text transform="translate(115.9 496.5) rotate(-90)" font-size="6.6" font-weight="bold" text-anchor="middle">Tumor volume (mm<tspan font-size="4.09" dy="-2.51">3</tspan><tspan dy="2.51">)</tspan></text>
<text x="166" y="557.6" font-size="6.6" font-weight="bold" text-anchor="middle" fill="#000">Days of treatment</text>
<text x="164.8" y="451.5" font-size="6.7" font-weight="bold" text-anchor="middle" fill="#000">PDX2</text>
<text x="193.8" y="517.2" font-size="5.8" font-weight="bold" text-anchor="start" fill="#3a3a3a" letter-spacing="0.5">****</text>
<path d="M240.77 531.06L251.87 530.66L260.19 528.7L271.28 525.95L279.6 523.98L290.69 514.54L296.24 519.26" fill="none" stroke="#f2000c" stroke-width="1.3" stroke-linejoin="round"/>
<path d="M251.87 529.88V531.45M250.27 529.88H253.47M250.27 531.45H253.47M260.19 527.52V529.88M258.59 527.52H261.79M258.59 529.88H261.79M271.28 524.37V527.52M269.68 524.37H272.88M269.68 527.52H272.88M279.6 522.21V525.75M278 522.21H281.2M278 525.75H281.2M290.69 511.99V517.1M289.09 511.99H292.29M289.09 517.1H292.29M296.24 517.49V521.03M294.64 517.49H297.84M294.64 521.03H297.84" fill="none" stroke="#f2000c" stroke-width="1.2"/>
<rect x="238.92" y="529.21" width="3.7" height="3.7" fill="#f2000c"/>
<rect x="250.02" y="528.81" width="3.7" height="3.7" fill="#f2000c"/>
<rect x="258.34" y="526.85" width="3.7" height="3.7" fill="#f2000c"/>
<rect x="269.43" y="524.1" width="3.7" height="3.7" fill="#f2000c"/>
<rect x="277.75" y="522.13" width="3.7" height="3.7" fill="#f2000c"/>
<rect x="288.84" y="512.69" width="3.7" height="3.7" fill="#f2000c"/>
<rect x="294.39" y="517.41" width="3.7" height="3.7" fill="#f2000c"/>
<path d="M240.77 531.06L251.87 517.89L260.19 509.24L271.28 501.76L279.6 497.24L290.69 481.71L296.24 462.64" fill="none" stroke="#000" stroke-width="1.3" stroke-linejoin="round"/>
<path d="M251.87 514.94V520.83M250.27 514.94H253.47M250.27 520.83H253.47M260.19 504.91V513.56M258.59 504.91H261.79M258.59 513.56H261.79M271.28 496.06V507.47M269.68 496.06H272.88M269.68 507.47H272.88M279.6 492.13V502.35M278 492.13H281.2M278 502.35H281.2M290.69 476.8V486.63M289.09 476.8H292.29M289.09 486.63H292.29M296.24 454.78V470.51M294.64 454.78H297.84M294.64 470.51H297.84" fill="none" stroke="#000" stroke-width="1.2"/>
<circle cx="240.77" cy="531.06" r="1.85" fill="#000"/>
<circle cx="251.87" cy="517.89" r="1.85" fill="#000"/>
<circle cx="260.19" cy="509.24" r="1.85" fill="#000"/>
<circle cx="271.28" cy="501.76" r="1.85" fill="#000"/>
<circle cx="279.6" cy="497.24" r="1.85" fill="#000"/>
<circle cx="290.69" cy="481.71" r="1.85" fill="#000"/>
<circle cx="296.24" cy="462.64" r="1.85" fill="#000"/>
<path d="M238 453.6V540.1H296.24M236.3 540.1H238M236.3 532.24H238M236.3 524.37H238M236.3 516.51H238M236.3 508.65H238M236.3 500.78H238M236.3 492.92H238M236.3 485.05H238M236.3 477.19H238M236.3 469.33H238M236.3 461.46H238M236.3 453.6H238M238 540.1V541.8M246.32 540.1V541.8M254.64 540.1V541.8M262.96 540.1V541.8M271.28 540.1V541.8M279.6 540.1V541.8M287.92 540.1V541.8M296.24 540.1V541.8" fill="none" stroke="#000" stroke-width="1.05" stroke-linecap="square"/>
<g font-size="4.6" font-weight="bold">
<text x="234.9" y="541.76" text-anchor="end">0</text>
<text x="234.9" y="533.89" text-anchor="end">200</text>
<text x="234.9" y="526.03" text-anchor="end">400</text>
<text x="234.9" y="518.17" text-anchor="end">600</text>
<text x="234.9" y="510.3" text-anchor="end">800</text>
<text x="234.9" y="502.44" text-anchor="end">1,000</text>
<text x="234.9" y="494.57" text-anchor="end">1,200</text>
<text x="234.9" y="486.71" text-anchor="end">1,400</text>
<text x="234.9" y="478.85" text-anchor="end">1,600</text>
<text x="234.9" y="470.98" text-anchor="end">1,800</text>
<text x="234.9" y="463.12" text-anchor="end">2,000</text>
<text x="234.9" y="455.26" text-anchor="end">2,200</text>
<text x="238" y="548.6" text-anchor="middle">0</text>
<text x="246.32" y="548.6" text-anchor="middle">3</text>
<text x="254.64" y="548.6" text-anchor="middle">6</text>
<text x="262.96" y="548.6" text-anchor="middle">9</text>
<text x="271.28" y="548.6" text-anchor="middle">12</text>
<text x="279.6" y="548.6" text-anchor="middle">15</text>
<text x="287.92" y="548.6" text-anchor="middle">18</text>
<text x="296.24" y="548.6" text-anchor="middle">21</text>
</g>
<text transform="translate(218.4 496.5) rotate(-90)" font-size="6.6" font-weight="bold" text-anchor="middle">Tumor volume (mm<tspan font-size="4.09" dy="-2.51">3</tspan><tspan dy="2.51">)</tspan></text>
<text x="268" y="557.6" font-size="6.6" font-weight="bold" text-anchor="middle" fill="#000">Days of treatment</text>
<text x="267.3" y="451.5" font-size="6.7" font-weight="bold" text-anchor="middle" fill="#000">PDX3</text>
<text x="301.3" y="522.5" font-size="5.8" font-weight="bold" text-anchor="start" fill="#3a3a3a" letter-spacing="0.5">****</text>
<path d="M345.92 532.41L353.92 530.01L361.92 530.97L372.58 524.24L380.58 525.92L391.25 525.68L401.92 523.28" fill="none" stroke="#f2000c" stroke-width="1.3" stroke-linejoin="round"/>
<path d="M353.92 528.81V531.21M352.32 528.81H355.52M352.32 531.21H355.52M361.92 529.77V532.17M360.32 529.77H363.52M360.32 532.17H363.52M372.58 521.6V526.88M370.98 521.6H374.18M370.98 526.88H374.18M380.58 523.04V528.81M378.98 523.04H382.18M378.98 528.81H382.18M391.25 523.28V528.09M389.65 523.28H392.85M389.65 528.09H392.85M401.92 517.99V528.57M400.32 517.99H403.52M400.32 528.57H403.52" fill="none" stroke="#f2000c" stroke-width="1.2"/>
<rect x="344.07" y="530.56" width="3.7" height="3.7" fill="#f2000c"/>
<rect x="352.07" y="528.16" width="3.7" height="3.7" fill="#f2000c"/>
<rect x="360.07" y="529.12" width="3.7" height="3.7" fill="#f2000c"/>
<rect x="370.73" y="522.39" width="3.7" height="3.7" fill="#f2000c"/>
<rect x="378.73" y="524.07" width="3.7" height="3.7" fill="#f2000c"/>
<rect x="389.4" y="523.83" width="3.7" height="3.7" fill="#f2000c"/>
<rect x="400.07" y="521.43" width="3.7" height="3.7" fill="#f2000c"/>
<path d="M345.92 532.41L353.92 525.92L361.92 519.53L372.58 506.46L380.58 500.45L391.25 487.48L401.92 472.34" fill="none" stroke="#000" stroke-width="1.3" stroke-linejoin="round"/>
<path d="M353.92 524V527.85M352.32 524H355.52M352.32 527.85H355.52M361.92 516.89V522.18M360.32 516.89H363.52M360.32 522.18H363.52M372.58 500.93V511.99M370.98 500.93H374.18M370.98 511.99H374.18M380.58 493.97V506.94M378.98 493.97H382.18M378.98 506.94H382.18M391.25 479.79V495.17M389.65 479.79H392.85M389.65 495.17H392.85M401.92 462.01V482.67M400.32 462.01H403.52M400.32 482.67H403.52" fill="none" stroke="#000" stroke-width="1.2"/>
<circle cx="345.92" cy="532.41" r="1.85" fill="#000"/>
<circle cx="353.92" cy="525.92" r="1.85" fill="#000"/>
<circle cx="361.92" cy="519.53" r="1.85" fill="#000"/>
<circle cx="372.58" cy="506.46" r="1.85" fill="#000"/>
<circle cx="380.58" cy="500.45" r="1.85" fill="#000"/>
<circle cx="391.25" cy="487.48" r="1.85" fill="#000"/>
<circle cx="401.92" cy="472.34" r="1.85" fill="#000"/>
<path d="M343.25 453.6V540.1H402M341.55 540.1H343.25M341.55 530.49H343.25M341.55 520.88H343.25M341.55 511.27H343.25M341.55 501.66H343.25M341.55 492.04H343.25M341.55 482.43H343.25M341.55 472.82H343.25M341.55 463.21H343.25M341.55 453.6H343.25M343.25 540.1V541.8M351.25 540.1V541.8M359.25 540.1V541.8M367.25 540.1V541.8M375.25 540.1V541.8M383.25 540.1V541.8M391.25 540.1V541.8M399.25 540.1V541.8" fill="none" stroke="#000" stroke-width="1.05" stroke-linecap="square"/>
<g font-size="4.6" font-weight="bold">
<text x="340.15" y="541.76" text-anchor="end">0</text>
<text x="340.15" y="532.14" text-anchor="end">200</text>
<text x="340.15" y="522.53" text-anchor="end">400</text>
<text x="340.15" y="512.92" text-anchor="end">600</text>
<text x="340.15" y="503.31" text-anchor="end">800</text>
<text x="340.15" y="493.7" text-anchor="end">1,000</text>
<text x="340.15" y="484.09" text-anchor="end">1,200</text>
<text x="340.15" y="474.48" text-anchor="end">1,400</text>
<text x="340.15" y="464.87" text-anchor="end">1,600</text>
<text x="340.15" y="455.26" text-anchor="end">1,800</text>
<text x="343.25" y="548.6" text-anchor="middle">0</text>
<text x="351.25" y="548.6" text-anchor="middle">3</text>
<text x="359.25" y="548.6" text-anchor="middle">6</text>
<text x="367.25" y="548.6" text-anchor="middle">9</text>
<text x="375.25" y="548.6" text-anchor="middle">12</text>
<text x="383.25" y="548.6" text-anchor="middle">15</text>
<text x="391.25" y="548.6" text-anchor="middle">18</text>
<text x="399.25" y="548.6" text-anchor="middle">21</text>
</g>
<text transform="translate(324.2 496.5) rotate(-90)" font-size="6.6" font-weight="bold" text-anchor="middle">Tumor volume (mm<tspan font-size="4.09" dy="-2.51">3</tspan><tspan dy="2.51">)</tspan></text>
<text x="373.5" y="557.6" font-size="6.6" font-weight="bold" text-anchor="middle" fill="#000">Days of treatment</text>
<text x="372.3" y="451.5" font-size="6.7" font-weight="bold" text-anchor="middle" fill="#000">PDX4</text>
<text x="406.3" y="525" font-size="5.8" font-weight="bold" text-anchor="start" fill="#3a3a3a" letter-spacing="0.5">****</text>
<path d="M451.39 529.77L459.32 518.48L469.9 511.51L477.83 504.06L488.4 503.58L496.33 498.29L506.9 494.93" fill="none" stroke="#f2000c" stroke-width="1.3" stroke-linejoin="round"/>
<path d="M459.32 517.03V519.92M457.72 517.03H460.92M457.72 519.92H460.92M469.9 509.58V513.43M468.3 509.58H471.5M468.3 513.43H471.5M477.83 501.9V506.22M476.23 501.9H479.43M476.23 506.22H479.43M488.4 500.93V506.22M486.8 500.93H490M486.8 506.22H490M496.33 494.45V502.14M494.73 494.45H497.93M494.73 502.14H497.93M506.9 491.08V498.77M505.3 491.08H508.5M505.3 498.77H508.5" fill="none" stroke="#f2000c" stroke-width="1.2"/>
<rect x="449.54" y="527.92" width="3.7" height="3.7" fill="#f2000c"/>
<rect x="457.47" y="516.62" width="3.7" height="3.7" fill="#f2000c"/>
<rect x="468.05" y="509.66" width="3.7" height="3.7" fill="#f2000c"/>
<rect x="475.98" y="502.21" width="3.7" height="3.7" fill="#f2000c"/>
<rect x="486.55" y="501.73" width="3.7" height="3.7" fill="#f2000c"/>
<rect x="494.48" y="496.44" width="3.7" height="3.7" fill="#f2000c"/>
<rect x="505.05" y="493.08" width="3.7" height="3.7" fill="#f2000c"/>
<path d="M451.39 529.77L459.32 519.44L469.9 506.85L477.83 490.12L488.4 485.08L496.33 478.83L506.9 468.74" fill="none" stroke="#000" stroke-width="1.3" stroke-linejoin="round"/>
<path d="M459.32 517.75V521.12M457.72 517.75H460.92M457.72 521.12H460.92M469.9 504.2V509.49M468.3 504.2H471.5M468.3 509.49H471.5M477.83 486.04V494.21M476.23 486.04H479.43M476.23 494.21H479.43M488.4 481.23V488.92M486.8 481.23H490M486.8 488.92H490M496.33 474.74V482.91M494.73 474.74H497.93M494.73 482.91H497.93M506.9 463.69V473.78M505.3 463.69H508.5M505.3 473.78H508.5" fill="none" stroke="#000" stroke-width="1.2"/>
<circle cx="451.39" cy="529.77" r="1.85" fill="#000"/>
<circle cx="459.32" cy="519.44" r="1.85" fill="#000"/>
<circle cx="469.9" cy="506.85" r="1.85" fill="#000"/>
<circle cx="477.83" cy="490.12" r="1.85" fill="#000"/>
<circle cx="488.4" cy="485.08" r="1.85" fill="#000"/>
<circle cx="496.33" cy="478.83" r="1.85" fill="#000"/>
<circle cx="506.9" cy="468.74" r="1.85" fill="#000"/>
<path d="M448.75 453.6V540.1H507.3M447.05 540.1H448.75M447.05 530.49H448.75M447.05 520.88H448.75M447.05 511.27H448.75M447.05 501.66H448.75M447.05 492.04H448.75M447.05 482.43H448.75M447.05 472.82H448.75M447.05 463.21H448.75M447.05 453.6H448.75M448.75 540.1V541.8M456.68 540.1V541.8M464.61 540.1V541.8M472.54 540.1V541.8M480.47 540.1V541.8M488.4 540.1V541.8M496.33 540.1V541.8M504.26 540.1V541.8" fill="none" stroke="#000" stroke-width="1.05" stroke-linecap="square"/>
<g font-size="4.6" font-weight="bold">
<text x="445.65" y="541.76" text-anchor="end">0</text>
<text x="445.65" y="532.14" text-anchor="end">200</text>
<text x="445.65" y="522.53" text-anchor="end">400</text>
<text x="445.65" y="512.92" text-anchor="end">600</text>
<text x="445.65" y="503.31" text-anchor="end">800</text>
<text x="445.65" y="493.7" text-anchor="end">1,000</text>
<text x="445.65" y="484.09" text-anchor="end">1,200</text>
<text x="445.65" y="474.48" text-anchor="end">1,400</text>
<text x="445.65" y="464.87" text-anchor="end">1,600</text>
<text x="445.65" y="455.26" text-anchor="end">1,800</text>
<text x="448.75" y="548.6" text-anchor="middle">0</text>
<text x="456.68" y="548.6" text-anchor="middle">3</text>
<text x="464.61" y="548.6" text-anchor="middle">6</text>
<text x="472.54" y="548.6" text-anchor="middle">9</text>
<text x="480.47" y="548.6" text-anchor="middle">12</text>
<text x="488.4" y="548.6" text-anchor="middle">15</text>
<text x="496.33" y="548.6" text-anchor="middle">18</text>
<text x="504.26" y="548.6" text-anchor="middle">21</text>
</g>
<text transform="translate(429.2 496.5) rotate(-90)" font-size="6.6" font-weight="bold" text-anchor="middle">Tumor volume (mm<tspan font-size="4.09" dy="-2.51">3</tspan><tspan dy="2.51">)</tspan></text>
<text x="478.4" y="557.6" font-size="6.6" font-weight="bold" text-anchor="middle" fill="#000">Days of treatment</text>
<text x="478" y="451.5" font-size="6.7" font-weight="bold" text-anchor="middle" fill="#000">PDX5</text>
<text x="511.3" y="497.5" font-size="5.8" font-weight="bold" text-anchor="start" fill="#3a3a3a" letter-spacing="0.5">****</text>
<path d="M196.2 568.8H208.8" stroke="#000" stroke-width="1.3"/>
<circle cx="202.5" cy="568.8" r="2.5" fill="#000"/>
<text x="212.3" y="571.55" font-size="7.78" font-weight="normal" text-anchor="start" fill="#111">Vehicle</text>
<path d="M196.2 579.3H208.8" stroke="#f2000c" stroke-width="1.3"/>
<rect x="200" y="576.8" width="5" height="5" fill="#f2000c"/>
<text x="212.3" y="582.05" font-size="7.78" font-weight="normal" text-anchor="start" fill="#111">ART0380 100 mg/kg, BID, 3on/4off</text>
</svg></body></html>
